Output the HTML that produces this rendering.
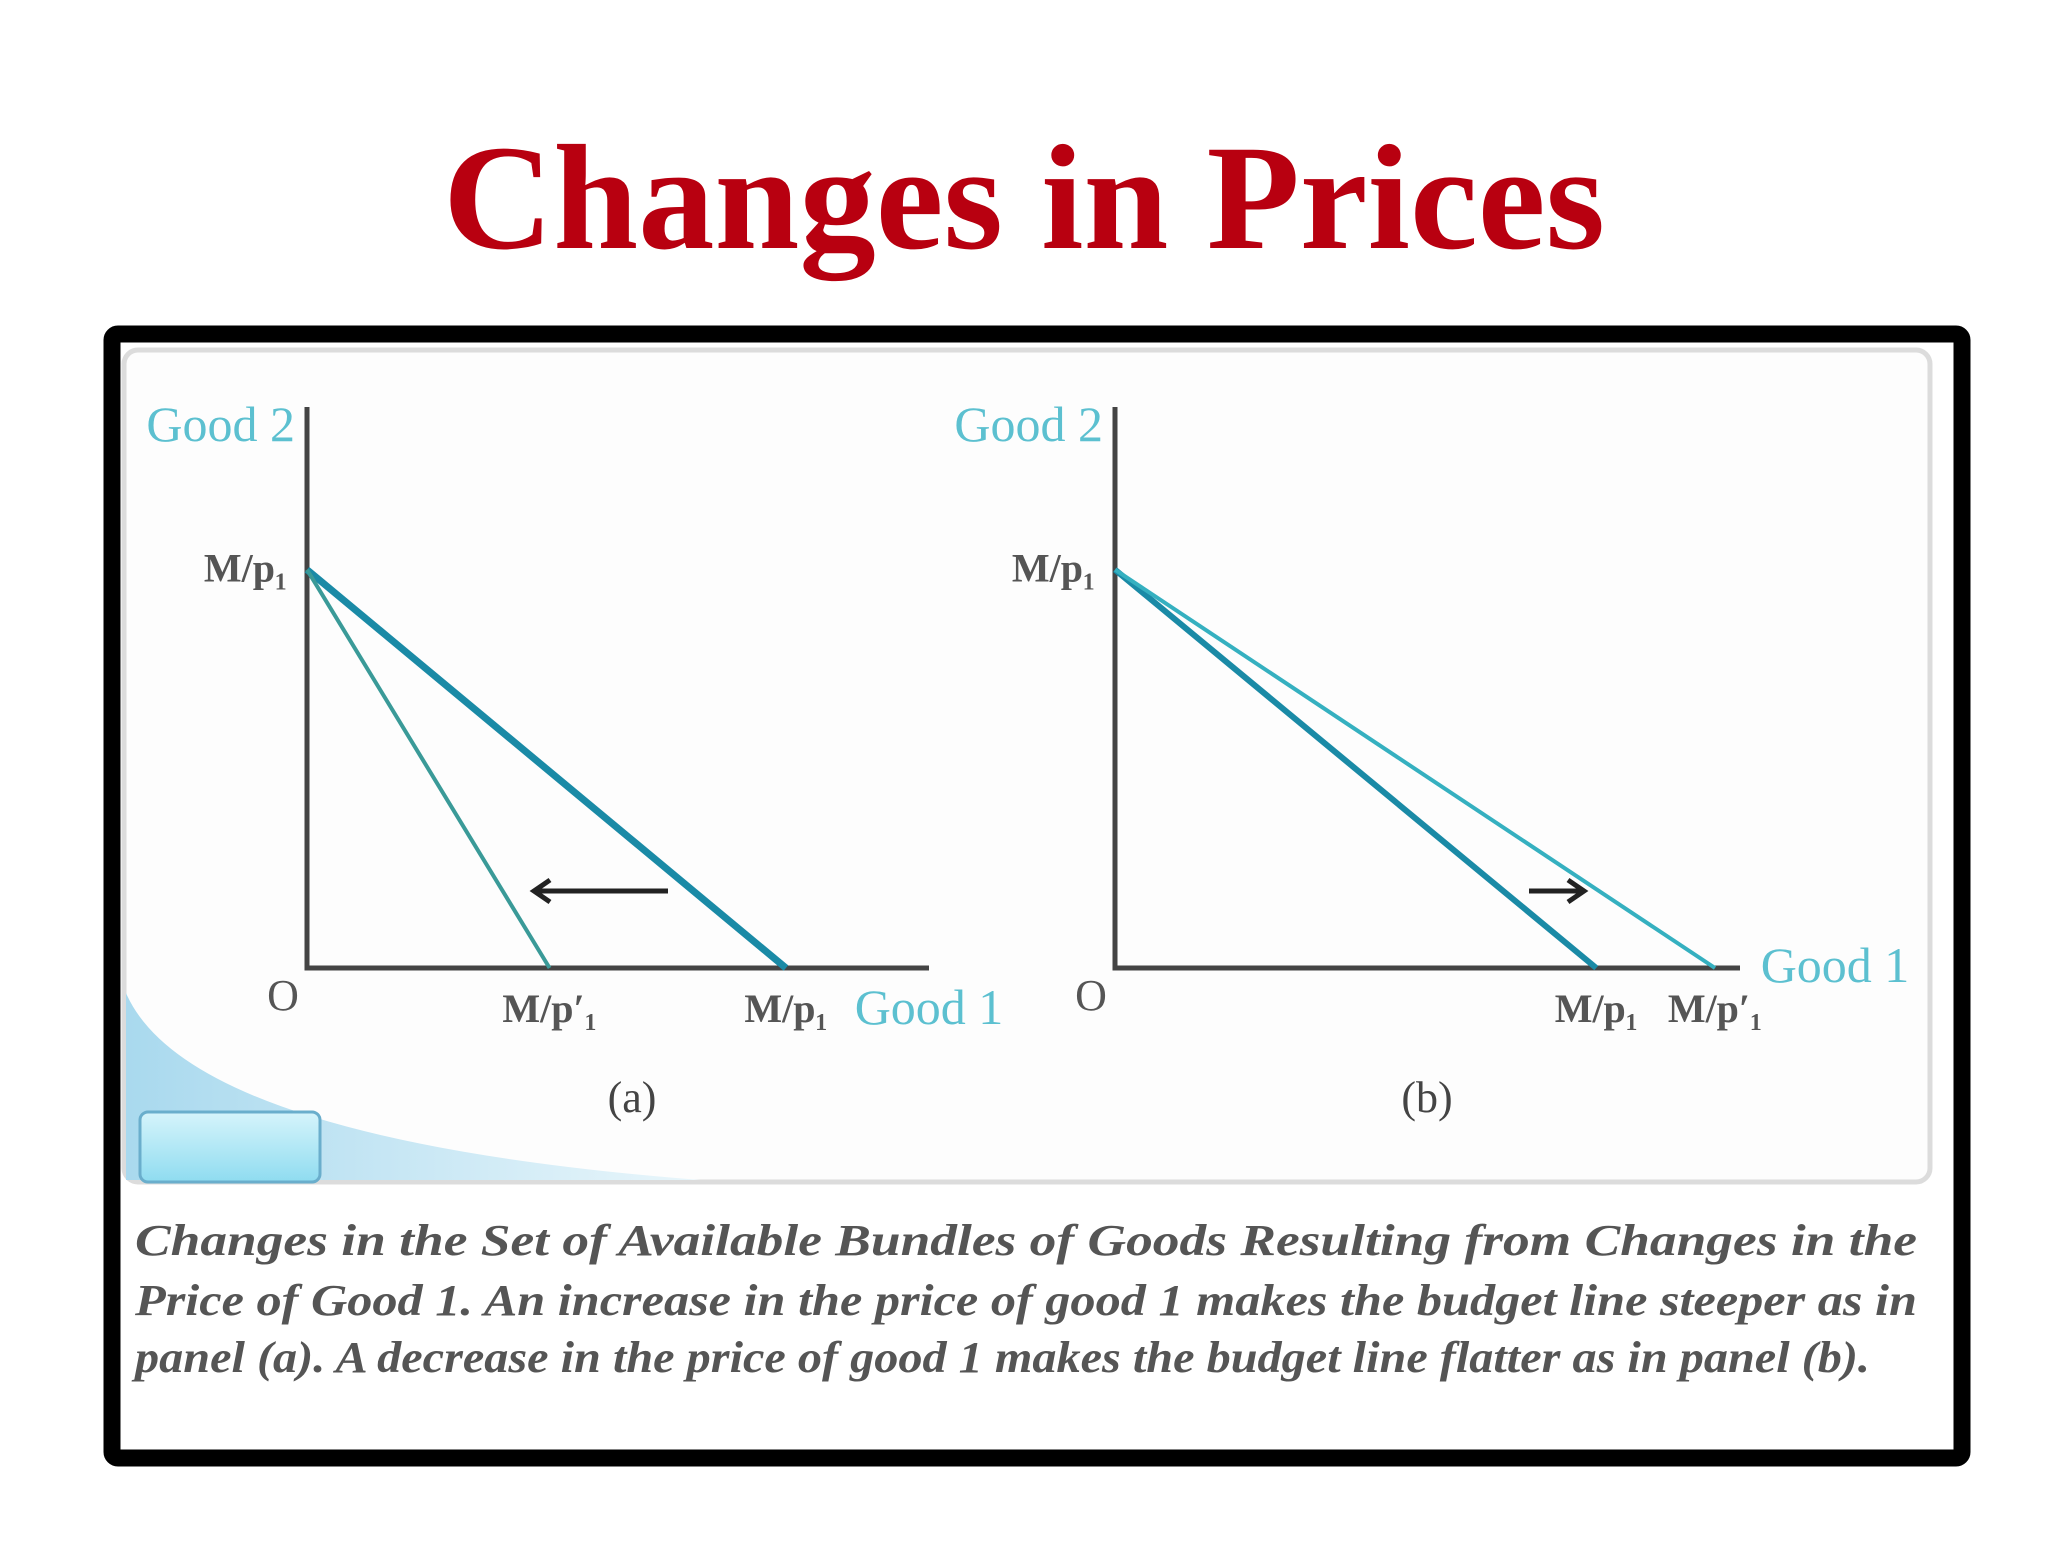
<!DOCTYPE html>
<html><head><meta charset="utf-8"><style>
html,body{margin:0;padding:0;background:#fff;}
body{width:2048px;height:1536px;position:relative;overflow:hidden;font-family:"Liberation Serif",serif;}
</style></head><body>
<svg id="main" width="2048" height="1536" viewBox="0 0 2048 1536" xmlns="http://www.w3.org/2000/svg">
<defs>
<linearGradient id="btn" x1="0" y1="0" x2="0" y2="1"><stop offset="0" stop-color="#d6f4fb"/><stop offset="1" stop-color="#8fdcf0"/></linearGradient>
<linearGradient id="swoosh" x1="0" y1="0" x2="1" y2="0"><stop offset="0" stop-color="#a9d9ee"/><stop offset="1" stop-color="#e9f6fb"/></linearGradient>
</defs>
<text x="1024" y="248" text-anchor="middle" font-size="150" font-weight="bold" fill="#b80010" textLength="1162" lengthAdjust="spacingAndGlyphs">Changes in Prices</text>
<rect x="112" y="334" width="1850" height="1124" rx="6" fill="#fff" stroke="#000" stroke-width="17"/>
<rect x="124" y="350" width="1806" height="832" rx="14" fill="#fdfdfd" stroke="#dcdcdc" stroke-width="5"/>
<path d="M126 993 Q190 1140 700 1180 L126 1180 Z" fill="url(#swoosh)"/>
<rect x="140" y="1112" width="180" height="70" rx="8" fill="url(#btn)" stroke="#6aaecc" stroke-width="3"/>
<g id="charts"></g>
<g font-size="44" font-style="italic" font-weight="bold" fill="#555">
<text x="135" y="1255" textLength="1782" lengthAdjust="spacingAndGlyphs">Changes in the Set of Available Bundles of Goods Resulting from Changes in the</text>
<text x="135" y="1315" textLength="1782" lengthAdjust="spacingAndGlyphs">Price of Good 1. An increase in the price of good 1 makes the budget line steeper as in</text>
<text x="135" y="1372" textLength="1735" lengthAdjust="spacingAndGlyphs">panel (a). A decrease in the price of good 1 makes the budget line flatter as in panel (b).</text>
</g>
</svg>
<script>
const panels = ["a", "b"];
const yIntercepts = [7.1, 7.1];
const originalXIntercepts = [7.7, 7.7];
const newXIntercepts = [3.9, 9.6];
const origLabels = ["M/p\u2081", "M/p\u2081"];
const newLabels = ["M/p\u2032\u2081", "M/p\u2032\u2081"];
const NS = "http://www.w3.org/2000/svg";
const chartG = document.getElementById("charts");
function mk(tag, attrs, parent, txt){const e=document.createElementNS(NS,tag);for(const k in attrs)e.setAttribute(k,attrs[k]);if(txt!==undefined)e.textContent=txt;(parent||chartG).appendChild(e);return e;}
const layout = [{ox:307,ex:929},{ox:1115,ex:1740}];
const axisOY=968, axisTop=407;
panels.forEach((p,i)=>{
  const L=layout[i];
  const xs=v=>L.ox+(L.ex-L.ox)*v/10;
  const ys=v=>axisOY-(axisOY-axisTop)*v/10;
  const pg=mk("g",{});
  
  
  const ax=mk("path",{d:`M${L.ox} ${axisTop} L${L.ox} ${axisOY} L${L.ex} ${axisOY}`,fill:"none",stroke:"#444",'stroke-width':5},pg);
  
  
  const yI=ys(yIntercepts[i]);
  const l1=mk("line",{x1:L.ox,y1:yI,x2:xs(originalXIntercepts[i]),y2:axisOY,stroke:"#1a8aa6",'stroke-width':i==0?7:6},pg);
  
  
  const l2=mk("line",{x1:L.ox,y1:yI,x2:xs(newXIntercepts[i]),y2:axisOY,stroke:i==0?"#3a9a98":"#35b0c0",'stroke-width':4},pg);
  
  
  const ay=891;
  let x1,x2;
  if(i==0){x1=668;x2=534;}else{x1=1529;x2=1584;}
  const dir=Math.sign(x2-x1);
  const ar=mk("path",{d:`M${x1} ${ay} L${x2} ${ay} M${x2-dir*16} ${ay-11} L${x2} ${ay} L${x2-dir*16} ${ay+11}`,fill:"none",stroke:"#222",'stroke-width':5},pg);
  
  
  const t1=mk("text",{x:L.ox-12,y:axisTop+34,'text-anchor':'end','font-size':50,fill:"#5cc0d0"},pg,"Good 2");
  
  
  const t2=mk("text",{x:L.ox-20,y:yI+12,'text-anchor':'end','font-size':40,'font-weight':'bold',fill:"#555"},pg,"M/p\u2081");
  
  
  const t3=mk("text",{x:L.ox-24,y:1010,'text-anchor':'middle','font-size':44,fill:"#555"},pg,"O");
  
  
  const t4=mk("text",{x:xs(originalXIntercepts[i]),y:1022,'text-anchor':'middle','font-size':40,'font-weight':'bold',fill:"#555"},pg,origLabels[i]);
  
  
  const t5=mk("text",{x:xs(newXIntercepts[i]),y:1022,'text-anchor':'middle','font-size':40,'font-weight':'bold',fill:"#555"},pg,newLabels[i]);
  
  
  const gx=i==0?929:1835, gy=i==0?1024:982;
  const t6=mk("text",{x:gx,y:gy,'text-anchor':'middle','font-size':50,fill:"#5cc0d0"},pg,"Good 1");
  
  
  const t7=mk("text",{x:i==0?632:1427,y:1112,'text-anchor':'middle','font-size':44,fill:"#444"},pg,"("+p+")");
  
  
});
</script>
</body></html>
